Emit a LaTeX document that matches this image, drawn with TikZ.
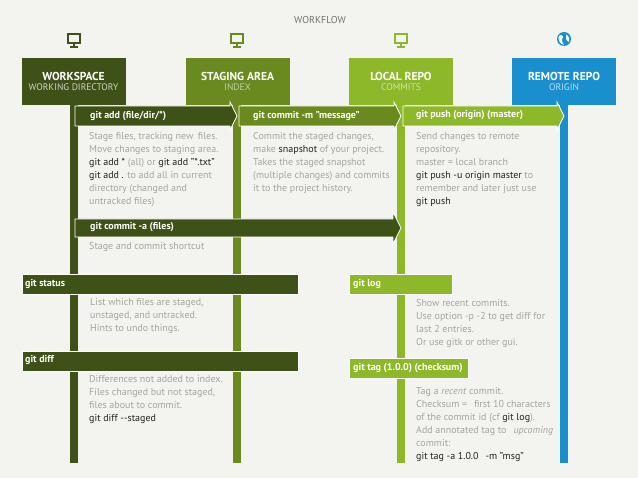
\documentclass[tikz,border=0pt]{standalone}
\usepackage{fontspec}
\setmainfont{PT Sans}
\definecolor{bg}{HTML}{F3F3EF}
\definecolor{cA}{HTML}{3E5217}
\definecolor{cB}{HTML}{6A8A1F}
\definecolor{cC}{HTML}{8DB829}
\definecolor{cD}{HTML}{1A8FCE}
\definecolor{gtxt}{HTML}{A5A5A0}
\definecolor{ktxt}{HTML}{222222}
\begin{document}
\begin{tikzpicture}[x=1pt,y=-1pt,
  hdr/.style={minimum width=104pt,minimum height=47pt,align=center,text=white,inner sep=0pt},
  vline/.style={line width=8pt},
  bar/.style={draw=white,line width=0.8pt,anchor=north west,inner sep=0pt},
  arr/.style={draw=white,line width=0.8pt},
  body/.style={anchor=north west,align=left,text=gtxt,font=\fontsize{10}{13}\selectfont,inner sep=0pt},
  lbl/.style={anchor=west,text=white,font=\fontsize{10}{12}\selectfont\bfseries,inner sep=0pt},
  mon/.style={line width=1.6pt}]
\fill[bg] (0,0) rectangle (638,478);
\useasboundingbox (0,0) rectangle (638,478);
\node[text=gray!90!black,font=\fontsize{10}{12}\selectfont] (title) at (320,20) {WORKFLOW};
% vertical lines
\draw[vline,cA] (74,100) -- (74,463);
\draw[vline,cB] (237,100) -- (237,463);
\draw[vline,cC] (401,100) -- (401,463);
\draw[vline,cD] (564,100) -- (564,463);
% headers
\node[hdr,fill=cA] (ws) at (73.5,81.5) {\fontsize{11.5}{13}\selectfont\bfseries WORKSPACE\\[-2pt]\fontsize{9.5}{11}\selectfont\color{white!75!cA}WORKING DIRECTORY};
\node[hdr,fill=cB] (st) at (237.5,81.5) {\fontsize{11.5}{13}\selectfont\bfseries STAGING AREA\\[-2pt]\fontsize{9.5}{11}\selectfont\color{white!60!cB}INDEX};
\node[hdr,fill=cC] (lr) at (401,81.5) {\fontsize{11.5}{13}\selectfont\bfseries LOCAL REPO\\[-2pt]\fontsize{9.5}{11}\selectfont\color{white!60!cC}COMMITS};
\node[hdr,fill=cD] (rr) at (564,81.5) {\fontsize{11.5}{13}\selectfont\bfseries REMOTE REPO\\[-2pt]\fontsize{9.5}{11}\selectfont\color{white!70!cD}ORIGIN};
% icons
\foreach \x/\c in {74/cA,237/cB,401/cC}{
  \draw[mon,\c] (\x-6,34) rectangle (\x+6,43);
  \fill[\c] (\x-1.2,43) rectangle (\x+1.2,46.5);
  \fill[\c] (\x-4,46.5) rectangle (\x+4,48);
}
\fill[cD] (564,39) circle (7);
\fill[white] (560,35) .. controls (563,35) and (564,37) .. (562,39) .. controls (561,41) and (563,43) .. (564,45) .. controls (560,44) and (558,40) .. (558.5,37) -- cycle;
\fill[white] (566,34.5) .. controls (569,36) and (570,39) .. (569,42) .. controls (567,41) and (565,39) .. (566,37) -- cycle;
% arrows
\draw[arr,fill=cA] (75,106) -- (230,106) -- (230,102) -- (237,116) -- (230,130) -- (230,126) -- (75,126) -- cycle;
\draw[arr,fill=cB] (239,106) -- (394,106) -- (394,102) -- (401,116) -- (394,130) -- (394,126) -- (239,126) -- cycle;
\draw[arr,fill=cC] (403,106) -- (557,106) -- (557,102) -- (564,116) -- (557,130) -- (557,126) -- (403,126) -- cycle;
\draw[arr,fill=cA] (75,219) -- (393,219) -- (393,212) -- (401,228) -- (393,244) -- (393,237) -- (75,237) -- cycle;
\node[lbl] (a1) at (90,116) {git add (file/dir/*)};
\node[lbl] (a2) at (253,116) {git commit -m "message"};
\node[lbl] (a3) at (416,115) {git push (origin) (master)};
\node[lbl] (a4) at (90,227) {git commit -a (files)};
% bodies
\node[body] (t1) at (89,132) {Stage files, tracking new\, files.\\Move changes to staging area.\\\textcolor{ktxt}{git add *} (all) or \textcolor{ktxt}{git add "*.txt"}\\\textcolor{ktxt}{git add .} to add all in current\\directory (changed and\\untracked files)};
\node[body] (t2) at (253,132) {Commit the staged changes,\\make \textcolor{ktxt}{snapshot} of your project.\\Takes the staged snapshot\\(multiple changes) and commits\\it to the project history.};
\node[body] (t3) at (416,132) {Send changes to remote\\repository.\\master = local branch\\\textcolor{ktxt}{git push -u origin master} to\\remember and later just use\\\textcolor{ktxt}{git push}};
\node[body] (t4) at (89,242) {Stage and commit shortcut};
% bars
\node[bar,fill=cA,minimum width=276pt,minimum height=20pt] (gs) at (22,274.5) {};
\node[lbl] at (25,284.5) {git status};
\node[bar,fill=cC,minimum width=103pt,minimum height=20pt] (gl) at (349,274.5) {};
\node[lbl] at (353,284.5) {git log};
\node[bar,fill=cA,minimum width=276pt,minimum height=20pt] (gd) at (22,351) {};
\node[lbl] at (25,360) {git diff};
\node[bar,fill=cC,minimum width=119pt,minimum height=20pt] (gt) at (349,358.5) {};
\node[lbl] at (353,368) {git tag (1.0.0) (checksum)};
\node[body] (t5) at (90,298) {List which files are staged,\\unstaged, and untracked.\\Hints to undo things.};
\node[body] (t6) at (416,299) {Show recent commits.\\Use option -p -2 to get diff for\\last 2 entries.\\Or use gitk or other gui.};
\node[body] (t7) at (89,375) {Differences not added to index.\\Files changed but not staged,\\files about to commit.\\\textcolor{ktxt}{git diff -{}-staged}};
\node[body] (t8) at (416,387) {Tag a \textit{recent} commit.\\Checksum = \, first 10 characters\\of the commit id (cf \textcolor{ktxt}{git log}).\\Add annotated tag to \, \textit{upcoming}\\commit:\\\textcolor{ktxt}{git tag -a 1.0.0 \, -m "msg"}};
\end{tikzpicture}
\end{document}
